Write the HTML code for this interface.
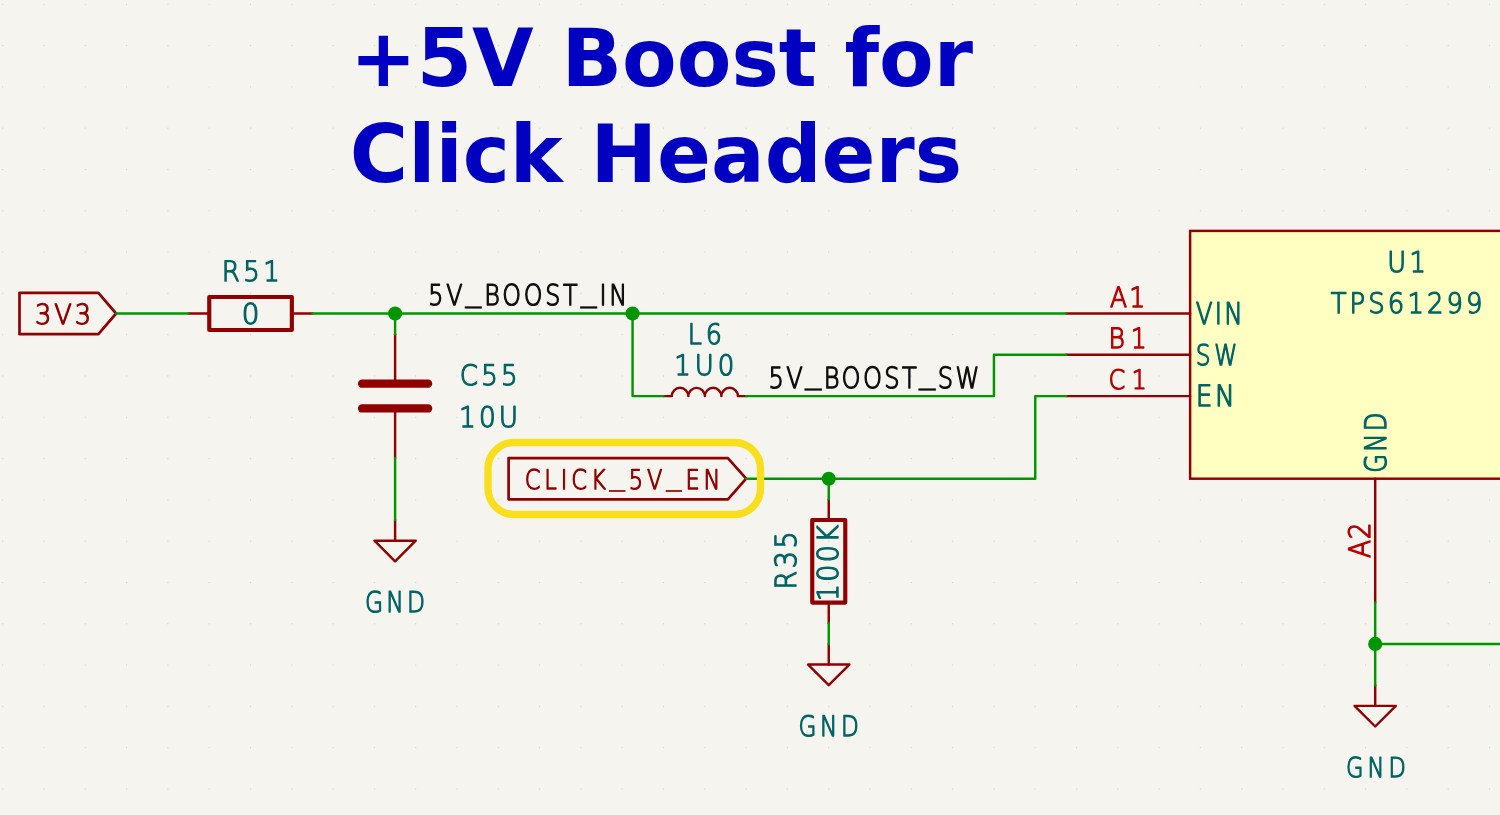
<!DOCTYPE html>
<html lang="en"><head><meta charset="utf-8"><title>+5V Boost for Click Headers</title>
<style>html,body{margin:0;padding:0;background:#F5F4EF;overflow:hidden}svg{display:block}.sf{font-family:"DejaVu Sans", "Liberation Sans", sans-serif;font-weight:200;font-size:30px;stroke-linejoin:round;stroke-linecap:round;vector-effect:non-scaling-stroke;text-rendering:geometricPrecision}.title{font-family:"DejaVu Sans","Liberation Sans",sans-serif;font-weight:bold;fill:#0000C2}</style></head><body>
<svg width="1500" height="815" viewBox="0 0 1500 815">
<defs><pattern id="grid" x="2.15" y="3.75" width="41.30" height="41.30" patternUnits="userSpaceOnUse"><circle cx="0.6" cy="0.6" r="0.62" fill="#C9C9C5"/></pattern></defs>
<rect width="1500" height="815" fill="#F5F4EF"/>
<rect width="1500" height="815" fill="url(#grid)"/>
<rect x="1190.12" y="230.90" width="400" height="247.80" fill="#FFFFC2" stroke="#900000" stroke-width="2.45"/>
<path d="M188.60 313.50 L209.25 313.50" fill="none" stroke="#900000" stroke-width="2.45" stroke-linecap="round" stroke-linejoin="round"/>
<path d="M291.85 313.50 L312.50 313.50" fill="none" stroke="#900000" stroke-width="2.45" stroke-linecap="round" stroke-linejoin="round"/>
<path d="M395.10 334.15 L395.10 383.71" fill="none" stroke="#900000" stroke-width="2.45" stroke-linecap="round" stroke-linejoin="round"/>
<path d="M395.10 408.49 L395.10 458.05" fill="none" stroke="#900000" stroke-width="2.45" stroke-linecap="round" stroke-linejoin="round"/>
<path d="M828.75 499.35 L828.75 520.00" fill="none" stroke="#900000" stroke-width="2.45" stroke-linecap="round" stroke-linejoin="round"/>
<path d="M828.75 602.60 L828.75 623.25" fill="none" stroke="#900000" stroke-width="2.45" stroke-linecap="round" stroke-linejoin="round"/>
<path d="M1066.22 313.50 L1190.12 313.50" fill="none" stroke="#900000" stroke-width="2.45" stroke-linecap="round" stroke-linejoin="round"/>
<path d="M1066.22 354.80 L1190.12 354.80" fill="none" stroke="#900000" stroke-width="2.45" stroke-linecap="round" stroke-linejoin="round"/>
<path d="M1066.22 396.10 L1190.12 396.10" fill="none" stroke="#900000" stroke-width="2.45" stroke-linecap="round" stroke-linejoin="round"/>
<path d="M1375.20 478.70 L1375.20 602.60" fill="none" stroke="#900000" stroke-width="2.45" stroke-linecap="round" stroke-linejoin="round"/>
<rect x="209.25" y="296.98" width="82.60" height="33.04" fill="none" stroke="#900000" stroke-width="4.13" stroke-linejoin="round"/>
<rect x="812.23" y="520.00" width="33.04" height="82.60" fill="none" stroke="#900000" stroke-width="4.13" stroke-linejoin="round"/>
<path d="M362.06 383.71 L428.14 383.71" fill="none" stroke="#900000" stroke-width="8.26" stroke-linecap="round" stroke-linejoin="round"/>
<path d="M362.06 408.49 L428.14 408.49" fill="none" stroke="#900000" stroke-width="8.26" stroke-linecap="round" stroke-linejoin="round"/>
<path d="M663.55 396.10 L671.81 396.10 A8.26 8.26 0 0 1 688.33 396.10 A8.26 8.26 0 0 1 704.85 396.10 A8.26 8.26 0 0 1 721.37 396.10 A8.26 8.26 0 0 1 737.89 396.10 L746.15 396.10" fill="none" stroke="#900000" stroke-width="2.45" stroke-linecap="round" stroke-linejoin="round"/>
<path d="M395.10 520.00 L395.10 540.65" fill="none" stroke="#900000" stroke-width="2.45" stroke-linecap="round" stroke-linejoin="round"/>
<path d="M374.45 540.65 L415.75 540.65 L395.10 561.30 Z" fill="none" stroke="#900000" stroke-width="2.45" stroke-linecap="round" stroke-linejoin="round"/>
<path d="M828.75 643.90 L828.75 664.55" fill="none" stroke="#900000" stroke-width="2.45" stroke-linecap="round" stroke-linejoin="round"/>
<path d="M808.10 664.55 L849.40 664.55 L828.75 685.20 Z" fill="none" stroke="#900000" stroke-width="2.45" stroke-linecap="round" stroke-linejoin="round"/>
<path d="M1375.20 685.20 L1375.20 705.85" fill="none" stroke="#900000" stroke-width="2.45" stroke-linecap="round" stroke-linejoin="round"/>
<path d="M1354.55 705.85 L1395.85 705.85 L1375.20 726.50 Z" fill="none" stroke="#900000" stroke-width="2.45" stroke-linecap="round" stroke-linejoin="round"/>
<path d="M19.50 292.85 L98.40 292.85 L116.10 313.50 L98.40 334.15 L19.50 334.15 Z" fill="none" stroke="#900000" stroke-width="2.70" stroke-linecap="round" stroke-linejoin="round"/>
<path d="M508.60 458.05 L727.90 458.05 L746.15 478.70 L727.90 499.35 L508.60 499.35 Z" fill="none" stroke="#900000" stroke-width="2.70" stroke-linecap="round" stroke-linejoin="round"/>
<path d="M116.10 313.50 L188.60 313.50" fill="none" stroke="#009600" stroke-width="2.45" stroke-linecap="round" stroke-linejoin="round"/>
<path d="M312.50 313.50 L1066.22 313.50" fill="none" stroke="#009600" stroke-width="2.45" stroke-linecap="round" stroke-linejoin="round"/>
<path d="M395.10 313.50 L395.10 334.15" fill="none" stroke="#009600" stroke-width="2.45" stroke-linecap="round" stroke-linejoin="round"/>
<path d="M395.10 458.05 L395.10 520.00" fill="none" stroke="#009600" stroke-width="2.45" stroke-linecap="round" stroke-linejoin="round"/>
<path d="M632.57 313.50 L632.57 396.10 L663.55 396.10" fill="none" stroke="#009600" stroke-width="2.45" stroke-linecap="round" stroke-linejoin="round"/>
<path d="M746.15 396.10 L993.95 396.10 L993.95 354.80 L1066.22 354.80" fill="none" stroke="#009600" stroke-width="2.45" stroke-linecap="round" stroke-linejoin="round"/>
<path d="M746.15 478.70 L1035.25 478.70 L1035.25 396.10 L1066.22 396.10" fill="none" stroke="#009600" stroke-width="2.45" stroke-linecap="round" stroke-linejoin="round"/>
<path d="M828.75 478.70 L828.75 499.35" fill="none" stroke="#009600" stroke-width="2.45" stroke-linecap="round" stroke-linejoin="round"/>
<path d="M828.75 623.25 L828.75 643.90" fill="none" stroke="#009600" stroke-width="2.45" stroke-linecap="round" stroke-linejoin="round"/>
<path d="M1375.20 602.60 L1375.20 685.20" fill="none" stroke="#009600" stroke-width="2.45" stroke-linecap="round" stroke-linejoin="round"/>
<path d="M1375.20 643.90 L1510.00 643.90" fill="none" stroke="#009600" stroke-width="2.45" stroke-linecap="round" stroke-linejoin="round"/>
<circle cx="395.10" cy="313.50" r="7.05" fill="#009600"/>
<circle cx="632.57" cy="313.50" r="7.05" fill="#009600"/>
<circle cx="828.75" cy="478.70" r="7.05" fill="#009600"/>
<circle cx="1375.20" cy="643.90" r="7.05" fill="#009600"/>
<rect x="488" y="442.5" width="272.5" height="72.0" rx="26" ry="26" fill="none" stroke="#F9DE1C" stroke-width="7.3"/>
<g opacity="0.999">
<text class="title" font-size="79.80" transform="translate(350.04 86.20) scale(0.9973 1)">+5V Boost for</text>
<text class="title" font-size="79.80" transform="translate(349.77 181.90) scale(0.9970 1)">Click Headers</text>
<text class="sf" fill="#900000" stroke="#900000" stroke-width="1.40" letter-spacing="3.504" transform="translate(34.90 324.47) scale(0.8553 0.9230)">3V3</text>
<text class="sf" fill="#006464" stroke="#006464" stroke-width="1.40" letter-spacing="4.057" transform="translate(221.76 281.36) scale(0.8649 0.9333)">R51</text>
<text class="sf" fill="#006464" stroke="#006464" stroke-width="1.40" letter-spacing="0.000" transform="translate(241.63 323.55) scale(0.9244 0.9622)">0</text>
<text class="sf" fill="#0F0F0F" stroke="#0F0F0F" stroke-width="1.40" letter-spacing="3.436" transform="translate(428.26 305.25) scale(0.7957 0.9535)">5V<tspan dy="-7.04" font-size="40.80" stroke-width="0.5">_</tspan><tspan dy="7.04">BOOST</tspan><tspan dy="-7.04" font-size="40.80" stroke-width="0.5">_</tspan><tspan dy="7.04">IN</tspan></text>
<text class="sf" fill="#006464" stroke="#006464" stroke-width="1.40" letter-spacing="3.621" transform="translate(459.87 385.06) scale(0.8674 0.9361)">C55</text>
<text class="sf" fill="#006464" stroke="#006464" stroke-width="1.40" letter-spacing="3.536" transform="translate(459.01 426.86) scale(0.8795 0.9491)">10U</text>
<text class="sf" fill="#006464" stroke="#006464" stroke-width="1.40" letter-spacing="4.056" transform="translate(365.08 611.76) scale(0.7783 0.9491)">GND</text>
<text class="sf" fill="#006464" stroke="#006464" stroke-width="1.40" letter-spacing="4.591" transform="translate(687.74 344.06) scale(0.8424 0.9361)">L6</text>
<text class="sf" fill="#006464" stroke="#006464" stroke-width="1.40" letter-spacing="4.561" transform="translate(674.25 374.86) scale(0.8674 0.9361)">1U0</text>
<text class="sf" fill="#0F0F0F" stroke="#0F0F0F" stroke-width="1.40" letter-spacing="2.847" transform="translate(768.53 388.25) scale(0.8066 0.9665)">5V<tspan dy="-7.06" font-size="40.80" stroke-width="0.5">_</tspan><tspan dy="7.06">BOOST</tspan><tspan dy="-7.06" font-size="40.80" stroke-width="0.5">_</tspan><tspan dy="7.06">SW</tspan></text>
<text class="sf" fill="#900000" stroke="#900000" stroke-width="1.40" letter-spacing="5.125" transform="translate(524.74 488.98) scale(0.7521 0.9012)">CLICK<tspan dy="-6.93" font-size="40.80" stroke-width="0.5">_</tspan><tspan dy="6.93">5V</tspan><tspan dy="-6.93" font-size="40.80" stroke-width="0.5">_</tspan><tspan dy="6.93">EN</tspan></text>
<text class="sf" fill="#006464" stroke="#006464" stroke-width="1.40" letter-spacing="2.847" transform="rotate(-90) translate(-589.44 796.45) scale(0.8957 0.9665)">R35</text>
<text class="sf" fill="#006464" stroke="#006464" stroke-width="1.40" letter-spacing="2.459" transform="rotate(-90) translate(-601.27 837.65) scale(0.9044 0.9622)">100K</text>
<text class="sf" fill="#006464" stroke="#006464" stroke-width="1.40" letter-spacing="4.714" transform="translate(798.39 735.86) scale(0.7711 0.9404)">GND</text>
<text class="sf" fill="#B60000" stroke="#B60000" stroke-width="1.40" letter-spacing="2.340" transform="translate(1110.11 307.10) scale(0.8374 0.9305)">A1</text>
<text class="sf" fill="#B60000" stroke="#B60000" stroke-width="1.40" letter-spacing="6.986" transform="translate(1108.55 348.40) scale(0.8374 0.9305)">B1</text>
<text class="sf" fill="#B60000" stroke="#B60000" stroke-width="1.40" letter-spacing="7.413" transform="translate(1108.62 389.28) scale(0.8033 0.8925)">C1</text>
<text class="sf" fill="#006464" stroke="#006464" stroke-width="1.40" letter-spacing="2.607" transform="translate(1195.71 323.70) scale(0.8226 1.0031)">VIN</text>
<text class="sf" fill="#006464" stroke="#006464" stroke-width="1.40" letter-spacing="4.811" transform="translate(1195.68 364.76) scale(0.7783 0.9491)">SW</text>
<text class="sf" fill="#006464" stroke="#006464" stroke-width="1.40" letter-spacing="2.934" transform="translate(1195.82 406.20) scale(0.8783 0.9759)">EN</text>
<text class="sf" fill="#006464" stroke="#006464" stroke-width="1.40" letter-spacing="4.107" transform="translate(1387.18 271.75) scale(0.8600 0.9556)">U1</text>
<text class="sf" fill="#006464" stroke="#006464" stroke-width="1.40" letter-spacing="3.627" transform="translate(1330.70 312.86) scale(0.8612 0.9361)">TPS61299</text>
<text class="sf" fill="#006464" stroke="#006464" stroke-width="1.40" letter-spacing="2.781" transform="rotate(-90) translate(-472.69 1385.74) scale(0.8068 0.9839)">GND</text>
<text class="sf" fill="#B60000" stroke="#B60000" stroke-width="1.40" letter-spacing="0.757" transform="rotate(-90) translate(-558.11 1370.00) scale(0.8840 0.9822)">A2</text>
<text class="sf" fill="#006464" stroke="#006464" stroke-width="1.40" letter-spacing="5.429" transform="translate(1346.04 776.77) scale(0.7497 0.9143)">GND</text>
</g>
</svg></body></html>
